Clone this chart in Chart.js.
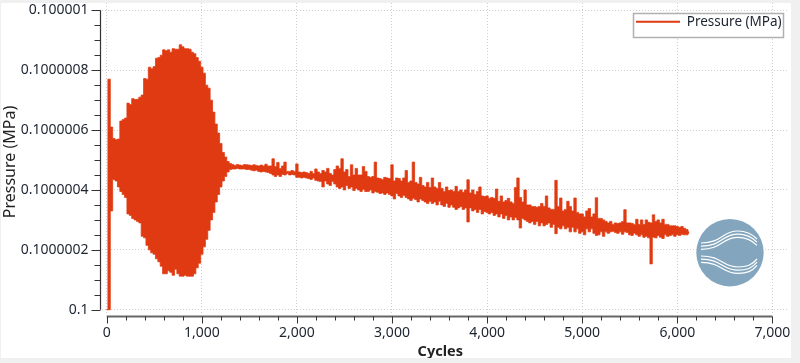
<!DOCTYPE html>
<html><head><meta charset="utf-8">
<style>html,body{margin:0;padding:0;background:#f0f0f0;width:800px;height:363px;overflow:hidden}
canvas{position:absolute;left:1px;top:3px;background:#fff}</style>
<script src="https://cdn.jsdelivr.net/npm/chart.js"></script></head>
<body><canvas id="c" width="790" height="355"></canvas>
<script>
const seriesName='Pressure (MPa)';
const xTitle='Cycles';
const baseMPa=0.1, offsetUnit=1e-7, cycleStep=25;
const xTicks=[0,1000,2000,3000,4000,5000,6000,7000];
const yTicks=[0.1,0.1000002,0.1000004,0.1000006,0.1000008,0.100001];
const xMinor=[200,400,600,800,1200,1400,1600,1800,2200,2400,2600,2800,3200,3400,3600,3800,4200,4400,4600,4800,5200,5400,5600,5800,6200,6400,6600,6800];
const yMinor=[0.5,1,1.5,2.5,3,3.5,4.5,5,5.5,6.5,7,7.5,8.5,9,9.5];
const upperOffset=[
0,7.7,6.1,5.72,5.68,5.7,6.3,6.35,6.4,6.9,
6.85,7.05,7.02,7.03,7.1,7.17,7.72,7.7,8.1,8.05,
8.12,8.4,8.42,8.5,8.68,8.65,8.68,8.6,8.72,8.7,
8.7,8.85,8.78,8.72,8.72,8.7,8.6,8.55,8.42,8.3,
8.1,7.9,7.5,7.4,7.0,6.6,6.2,5.9,5.55,5.25,
5.1,4.95,4.88,4.85,4.82,4.85,4.83,4.82,4.85,4.84,
4.83,4.82,4.84,4.82,4.8,4.83,4.8,4.86,4.8,4.8,
5.04,4.78,4.92,4.72,4.8,4.93,4.62,4.62,4.65,4.62,
4.87,4.6,4.58,4.6,4.58,4.55,4.62,4.55,4.7,4.6,
4.55,4.65,4.6,4.72,4.55,4.5,4.68,4.8,4.72,5.04,
4.6,4.68,4.45,4.84,4.5,4.72,4.5,4.5,4.78,4.62,
4.45,4.42,4.45,4.93,4.4,4.38,4.35,4.42,4.4,4.38,
4.84,4.3,4.4,4.38,4.3,4.4,4.65,4.25,4.3,4.93,
4.25,4.2,4.42,4.15,4.1,4.25,4.08,4.4,4.1,4.05,
4.25,4.05,3.95,4.1,3.98,4.0,3.95,4.12,3.95,4.0,
3.92,4.0,4.34,3.9,4.0,3.85,3.95,4.1,3.8,3.78,
3.8,3.72,3.75,3.72,4.03,3.62,3.8,3.6,3.65,3.72,
3.6,3.55,4.08,4.4,3.75,3.6,4.0,3.5,3.5,3.45,
3.45,3.42,3.45,3.55,3.45,3.8,3.4,3.35,3.35,4.32,
3.45,3.73,3.3,3.35,3.62,3.45,3.3,3.73,3.25,3.2,
3.2,3.1,3.3,3.38,3.1,3.2,3.74,3.05,3.05,3.0,
2.95,2.9,2.95,2.85,2.9,2.88,2.9,2.95,3.34,2.9,
2.9,2.88,2.85,3.02,2.85,3.0,2.85,3.0,2.92,2.9,
3.17,2.95,3.0,2.9,3.02,2.85,2.85,2.8,2.8,2.8,
2.78,2.75,2.78,2.72,2.68,2.6];
const lowerOffset=[
0,0,3.3,4.35,4.3,4.1,3.95,3.85,3.75,3.2,
3.15,3.05,3.0,2.95,2.9,2.45,2.4,2.15,2.0,1.9,
1.85,1.7,1.6,1.45,1.2,1.2,1.3,1.25,1.15,1.35,
1.2,1.12,1.12,1.15,1.12,1.12,1.12,1.2,1.4,1.55,
1.85,2.1,2.35,2.65,3.0,3.25,3.6,3.85,4.1,4.3,
4.45,4.6,4.68,4.7,4.7,4.72,4.7,4.7,4.7,4.68,
4.68,4.66,4.64,4.66,4.62,4.6,4.62,4.6,4.58,4.55,
4.5,4.45,4.5,4.45,4.52,4.5,4.55,4.5,4.52,4.5,
4.42,4.42,4.4,4.42,4.4,4.38,4.35,4.4,4.32,4.3,
4.28,4.1,4.3,4.2,4.15,4.28,4.2,4.1,4.05,4.1,
4.0,4.15,4.05,4.1,3.98,4.05,4.0,3.95,4.02,3.95,
3.95,4.0,3.9,3.95,3.92,3.88,3.9,3.85,3.9,3.85,
3.8,3.7,3.88,3.8,3.75,3.82,3.75,3.7,3.65,3.72,
3.68,3.6,3.7,3.65,3.6,3.55,3.62,3.55,3.6,3.5,
3.62,3.5,3.45,3.55,3.42,3.5,3.42,3.35,3.4,3.45,
3.35,3.4,2.93,3.4,3.3,3.35,3.25,3.35,3.2,3.28,
3.25,3.2,3.25,3.15,3.2,3.1,3.2,3.05,3.15,3.0,
3.1,3.0,3.08,3.0,2.73,3.05,3.0,2.95,2.9,2.95,
2.85,2.95,2.8,2.9,2.8,2.85,2.9,2.75,2.85,2.54,
2.75,2.7,2.8,2.7,2.75,2.6,2.75,2.6,2.7,2.55,
2.6,2.5,2.7,2.6,2.7,2.55,2.48,2.5,2.6,2.45,
2.6,2.55,2.6,2.62,2.58,2.55,2.6,2.52,2.6,2.58,
2.5,2.48,2.55,2.5,2.45,2.5,2.42,2.45,2.4,1.53,
2.42,2.4,2.48,2.42,2.38,2.5,2.45,2.48,2.5,2.45,
2.5,2.48,2.52,2.5,2.5,2.55];

const RED='#e03a12', FONT='"Noto Sans"', TXT='#1c2430';
const toPts=a=>a.map((v,i)=>({x:i*cycleStep,y:baseMPa+v*offsetUnit}));
function nudgeTitle(scale,ctx,dx,dy){
 if(scale._nudged)return;scale._nudged=true;
 const orig=scale.drawTitle;
 scale.drawTitle=function(){ctx.save();ctx.translate(dx,dy);orig.call(this);ctx.restore();};
}

const axesPlugin={
 id:'offsetAxes',
 afterInit(chart){
  const lg=chart.legend, fit=lg.fit, draw=lg.draw;
  lg.fit=function(){fit.call(this);this.height=0;};
  lg.draw=function(){
   const c=chart.ctx;c.save();
   c.fillStyle='#fff';c.fillRect(631.5,9.5,151,25);
   c.strokeStyle='#b0b0b0';c.lineWidth=1.5;c.strokeRect(632.5,10.5,150,24);
   c.restore();
   draw.call(this);
  };
 },
 afterLayout(chart){
  const lg=chart.legend;
  lg.left=635;lg.right=782;lg.top=12;lg.bottom=33;lg.width=147;lg.height=21;
  nudgeTitle(chart.scales.x,chart.ctx,-5,0);
  nudgeTitle(chart.scales.y,chart.ctx,0,4);
 },
 afterDraw(chart){
  const c=chart.ctx,xs=chart.scales.x,ys=chart.scales.y;
  const ax=99.5, ay=313.5;
  c.save();
  c.strokeStyle='#333';c.lineWidth=1.2;
  c.beginPath();
  c.moveTo(ax,ys.getPixelForValue(yTicks[5]));c.lineTo(ax,ys.getPixelForValue(yTicks[0]));
  yTicks.forEach(v=>{const p=Math.round(ys.getPixelForValue(v))+.5;c.moveTo(ax,p);c.lineTo(ax-9,p);});
  yMinor.forEach(v=>{const p=Math.round(ys.getPixelForValue(baseMPa+v*offsetUnit))+.5;c.moveTo(ax,p);c.lineTo(ax-6,p);});
  c.stroke();
  c.strokeStyle='#666';c.lineWidth=1.8;
  c.beginPath();c.moveTo(xs.getPixelForValue(0),ay);c.lineTo(xs.getPixelForValue(7000),ay);c.stroke();
  c.strokeStyle='#333';c.lineWidth=1;c.beginPath();
  xTicks.forEach(v=>{const p=Math.round(xs.getPixelForValue(v))+.5;c.moveTo(p,ay);c.lineTo(p,ay+7);});
  xMinor.forEach(v=>{const p=Math.round(xs.getPixelForValue(v))+.5;c.moveTo(p,ay);c.lineTo(p,ay+4);});
  c.stroke();
  c.fillStyle='#83a6be';c.beginPath();c.arc(729,249.7,33.7,0,Math.PI*2);c.fill();
  c.strokeStyle='#fff';c.lineWidth=1.2;
  for(let i=0;i<3;i++){
   const d=i*3.2;
   c.beginPath();c.moveTo(700,240+d);c.bezierCurveTo(721,240+d,721,228+d,737,228+d);c.bezierCurveTo(746,228+d,751,231+d,756,236+d);c.stroke();
   c.beginPath();c.moveTo(700,253+d);c.bezierCurveTo(721,253+d,721,264+d,737,264+d);c.bezierCurveTo(746,264+d,751,262+d,756,256+d);c.stroke();
  }
  c.restore();
 }
};

new Chart(document.getElementById('c'),{
 type:'line',
 data:{datasets:[
  {label:seriesName,data:toPts(upperOffset),borderColor:RED,backgroundColor:RED,borderWidth:0.8,pointRadius:0,stepped:'middle',fill:false},
  {label:'lower',data:toPts(lowerOffset),borderColor:RED,backgroundColor:RED,borderWidth:0.8,pointRadius:0,stepped:'middle',fill:'-1'}
 ]},
 plugins:[axesPlugin],
 options:{
  responsive:false,animation:false,devicePixelRatio:1,
  layout:{autoPadding:false,padding:{left:0,right:2,top:0,bottom:0}},
  plugins:{
   tooltip:{enabled:false},title:{display:false},
   legend:{display:true,position:'top',align:'start',
    labels:{boxWidth:44,boxHeight:0,padding:0,color:TXT,font:{family:FONT,size:13.5},filter:i=>i.datasetIndex===0,
     generateLabels(chart){const items=Chart.defaults.plugins.legend.labels.generateLabels(chart);items.forEach(i=>{i.lineWidth=2;});return items;}}}
  },
  scales:{
   x:{type:'linear',min:-55,max:7175,
    afterBuildTicks(s){s.ticks=xTicks.map(v=>({value:v}));},
    afterFit(s){s.height=45;s.paddingLeft=0;s.paddingRight=0;},
    grid:{color:'#cfcfcf',lineWidth:1,drawTicks:false},
    border:{display:false,dash:[1,2]},
    ticks:{autoSkip:false,maxRotation:0,padding:12,color:TXT,font:{family:FONT,size:14},callback:v=>v.toLocaleString('en-US')},
    title:{display:true,text:xTitle,color:'#222',font:{family:FONT,size:14.5,weight:'bold'},padding:{top:0,bottom:-2.5}}
   },
   y:{type:'linear',min:0.1-0.11e-7,max:0.1+10.244e-7,
    afterBuildTicks(s){s.ticks=yTicks.map(v=>({value:v}));},
    afterFit(s){s.width=100.5;s.paddingTop=0;s.paddingBottom=0;},
    grid:{color:'#cfcfcf',lineWidth:1,drawTicks:false},
    border:{display:false,dash:[1,2]},
    ticks:{autoSkip:false,padding:13,color:TXT,font:{family:FONT,size:14},callback:v=>String(v)},
    title:{display:true,text:seriesName,color:'#222',font:{family:FONT,size:16},padding:{top:0,bottom:0}}
   }
  }
 }
});
</script></body></html>
